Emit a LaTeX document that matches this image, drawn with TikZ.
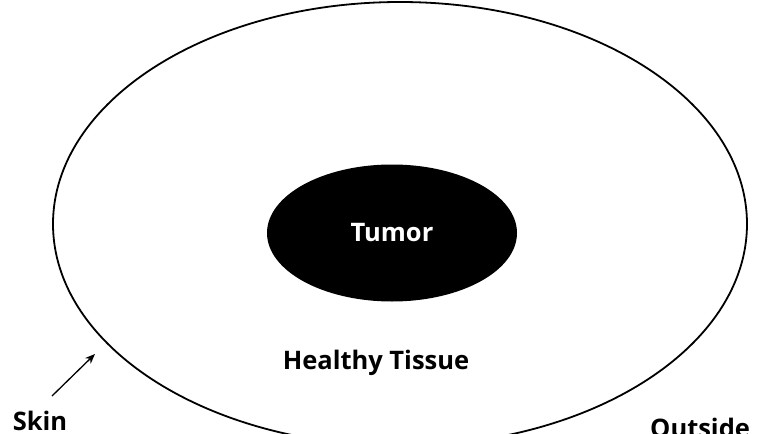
\documentclass[tikz,border=0pt]{standalone}
\usepackage{fontspec}
\setmainfont{Open Sans}
\usetikzlibrary{shapes.geometric,arrows.meta}
\begin{document}
\begin{tikzpicture}[x=1pt,y=-1pt,
  lbl/.style={font=\fontsize{25.5}{30}\selectfont\bfseries,inner sep=0pt}]
\useasboundingbox (0,0) rectangle (780,434);
\clip (0,0) rectangle (780,434);
\draw[line width=1.8pt] (400,224) ellipse [x radius=347, y radius=222];
\node[ellipse,fill=black,minimum width=250,minimum height=137,inner sep=0] (tumor) at (392,233) {};
\node[lbl,text=white] at (tumor) {Tumor};
\node[lbl] (healthy) at (376,363) {Healthy Tissue};
\node[lbl] (skin) at (40,421) {Skin};
\node[lbl,anchor=west] (outside) at (650,428) {Outside};
\coordinate (a1) at (52,396);
\coordinate (a2) at (95,354);
\draw[line width=1.3pt,-{Stealth[length=10pt,width=8pt]}] (a1) -- (a2);
\end{tikzpicture}
\end{document}
